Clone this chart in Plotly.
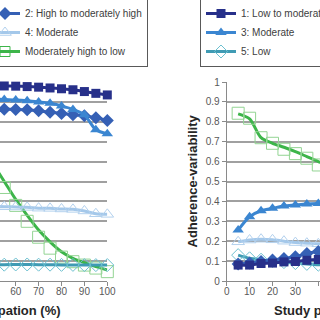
import plotly.graph_objects as go

FONT = "Arial, Liberation Sans, sans-serif"

# ---- data ----
x_left = [50, 55, 60, 65, 70, 75, 80, 85, 90, 95, 100]
x_right = [5, 10, 15, 20, 25, 30, 35, 40, 45]

names = ["1: Low to moderate", "2: High to moderately high", "3: Moderate",
         "4: Moderate", "5: Low", "Moderately high to low"]

left_s1 = [0.982, 0.98, 0.979, 0.977, 0.974, 0.970, 0.966, 0.961, 0.952, 0.943, 0.935]
left_s2 = [0.865, 0.863, 0.862, 0.860, 0.855, 0.848, 0.842, 0.836, 0.830, 0.820, 0.806]
left_s3 = [0.915, 0.912, 0.910, 0.906, 0.900, 0.893, 0.880, 0.862, 0.835, 0.760, 0.740]
left_s4 = [0.375, 0.373, 0.372, 0.370, 0.366, 0.365, 0.362, 0.360, 0.352, 0.338, 0.335]
left_s5 = [0.082, 0.082, 0.083, 0.083, 0.082, 0.082, 0.081, 0.081, 0.080, 0.080, 0.080]
left_s6_pts = [0.57, 0.47, 0.38, 0.30, 0.22, 0.165, 0.12, 0.097, 0.08, 0.065, 0.047]
left_s6_line = [0.59, 0.50, 0.41, 0.33, 0.256, 0.197, 0.147, 0.114, 0.092, 0.072, 0.055]

right_s1 = [0.080, 0.080, 0.088, 0.090, 0.096, 0.098, 0.104, 0.108, 0.110]
right_s2 = [0.085, 0.090, 0.098, 0.105, 0.113, 0.122, 0.138, 0.148, 0.155]
right_s3 = [0.256, 0.323, 0.353, 0.365, 0.377, 0.382, 0.387, 0.390, 0.392]
right_s4 = [0.197, 0.206, 0.210, 0.207, 0.200, 0.193, 0.190, 0.187, 0.186]
right_s5 = [0.130, 0.114, 0.107, 0.100, 0.095, 0.090, 0.086, 0.082, 0.080]
right_s6_pts = [0.843, 0.818, 0.720, 0.692, 0.662, 0.640, 0.617, 0.583, 0.565]
right_s6_line = [0.840, 0.815, 0.720, 0.692, 0.672, 0.650, 0.625, 0.600, 0.580]

x_title = "Study participation (%)"
y_title = "Adherence-variability"

# ---- styles ----
C1, C2, C3, C4, C5 = "#27308a", "#3560b5", "#3b86d1", "#a4c8ea", "#3f9bb4"
C6_LINE, C6_MK = "#3db54a", "#93d493"

styles = {
    1: dict(line=dict(color=C1, width=3),
            marker=dict(symbol="square", size=9, color=C1)),
    2: dict(line=dict(color=C2, width=3),
            marker=dict(symbol="diamond", size=10, color=C2)),
    3: dict(line=dict(color=C3, width=3),
            marker=dict(symbol="triangle-up", size=10, color=C3)),
    4: dict(line=dict(color=C4, width=3),
            marker=dict(symbol="triangle-up-open", size=11, color="#b3d1ee",
                        line=dict(width=1))),
    5: dict(line=dict(color=C5, width=3),
            marker=dict(symbol="diamond-open", size=10, color="#6cc0d0",
                        line=dict(width=1))),
}

fig = go.Figure()

def add_series(xs, ys, k, xa, ya):
    st = styles[k]
    fig.add_trace(go.Scatter(
        x=xs, y=ys, mode="lines+markers", name=names[k - 1],
        line=dict(shape="spline", smoothing=0.8, **st["line"]),
        marker=st["marker"], xaxis=xa, yaxis=ya, cliponaxis=False,
        showlegend=False))

def add_green(xs, pts, line, xa, ya):
    fig.add_trace(go.Scatter(
        x=xs, y=line, mode="lines", line=dict(color=C6_LINE, width=3, shape="spline", smoothing=0.8),
        xaxis=xa, yaxis=ya, showlegend=False))
    fig.add_trace(go.Scatter(
        x=xs, y=pts, mode="markers",
        marker=dict(symbol="square-open", size=12, color=C6_MK, line=dict(width=1)),
        xaxis=xa, yaxis=ya, cliponaxis=False, showlegend=False))

# left panel
add_green(x_left, left_s6_pts, left_s6_line, "x", "y")
add_series(x_left, left_s5, 5, "x", "y")
add_series(x_left, left_s4, 4, "x", "y")
add_series(x_left, left_s2, 2, "x", "y")
add_series(x_left, left_s3, 3, "x", "y")
add_series(x_left, left_s1, 1, "x", "y")

# right panel
add_green(x_right, right_s6_pts, right_s6_line, "x2", "y2")
add_series(x_right, right_s4, 4, "x2", "y2")
add_series(x_right, right_s5, 5, "x2", "y2")
add_series(x_right, right_s2, 2, "x2", "y2")
add_series(x_right, right_s1, 1, "x2", "y2")
add_series(x_right, right_s3, 3, "x2", "y2")

# legend entries (no data drawn)
def legend_entry(k, legend):
    if k == 6:
        fig.add_trace(go.Scatter(x=[None], y=[None], mode="lines+markers", name=names[5],
                                 line=dict(color=C6_LINE, width=3),
                                 marker=dict(symbol="square-open", size=10, color=C6_LINE, line=dict(width=1)),
                                 legend=legend))
    else:
        st = styles[k]
        fig.add_trace(go.Scatter(x=[None], y=[None], mode="lines+markers", name=names[k - 1],
                                 line=st["line"], marker=st["marker"], legend=legend))

for k in (2, 4, 6):
    legend_entry(k, "legend")
for k in (1, 3, 5):
    legend_entry(k, "legend2")

W, H = 320, 320
L, R, T, B = 0, 0, 82, 39
ph = H - T - B

def px_x(p):
    return p / W

def px_y(p):
    return (H - B - p) / ph

GRID = "#a0a0a0"
AX = "#8a8a8a"
tickfont = dict(family=FONT, size=10, color="#595959")

common_y = dict(range=[0, 1], dtick=0.1, tick0=0, showgrid=True, gridcolor=GRID,
                gridwidth=1.5, zeroline=False, tickfont=tickfont, fixedrange=True)
common_x = dict(dtick=10, tick0=0, showgrid=False, zeroline=False, showline=True,
                linecolor=AX, linewidth=1, ticks="outside", ticklen=4, tickcolor=AX,
                tickfont=tickfont, ticklabelstandoff=-3)

legend_style = dict(bordercolor="#595959", borderwidth=1, bgcolor="white",
                    font=dict(family=FONT, size=10, color="#404040"),
                    yanchor="bottom", y=px_y(67), tracegroupgap=0)

fig.update_layout(
    width=W, height=H,
    margin=dict(l=L, r=R, t=T, b=B, autoexpand=False),
    paper_bgcolor="white", plot_bgcolor="white",
    font=dict(family=FONT),
    xaxis=dict(domain=[0, px_x(107.3)], range=[53.14, 100], anchor="y", **common_x),
    yaxis=dict(domain=[0, 1], anchor="x", showticklabels=False, showline=False, **common_y),
    xaxis2=dict(domain=[px_x(226.7), 1], range=[0, 40.74], anchor="y2", **common_x),
    yaxis2=dict(domain=[0, 1], anchor="x2", showline=True, linecolor=AX, linewidth=1,
                ticks="outside", ticklen=4, tickcolor=AX, **common_y),
    legend=dict(x=px_x(148), xanchor="right", **legend_style),
    legend2=dict(x=px_x(200), xanchor="left", **legend_style),
    showlegend=True,
    annotations=[
        dict(text=f"<b>{x_title}</b>", x=px_x(62.5), xanchor="right", y=px_y(310),
             yanchor="middle", xref="paper", yref="paper", showarrow=False,
             font=dict(family=FONT, size=13, color="#262626")),
        dict(text=f"<b>{x_title}</b>", x=px_x(272), xanchor="left", y=px_y(310),
             yanchor="middle", xref="paper", yref="paper", showarrow=False,
             font=dict(family=FONT, size=13, color="#262626")),
        dict(text=f"<b>{y_title}</b>", x=px_x(192), xanchor="center", y=0.5,
             yanchor="middle", xref="paper", yref="paper", showarrow=False, textangle=-90,
             font=dict(family=FONT, size=13, color="#262626")),
    ],
)

fig.write_html("out.html")
